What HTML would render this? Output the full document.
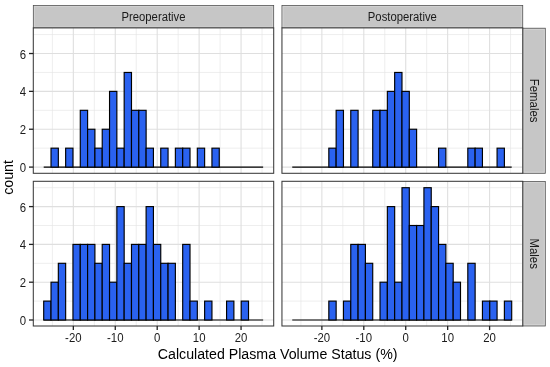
<!DOCTYPE html>
<html><head><meta charset="utf-8"><title>Calculated Plasma Volume Status</title>
<style>html,body{margin:0;padding:0;background:#fff}svg{display:block}</style></head>
<body>
<svg width="550" height="367" viewBox="0 0 550 367" font-family="Liberation Sans, Arial, sans-serif">
<rect width="550" height="367" fill="#fff"/>
<rect x="33.3" y="5.6" width="240.40" height="22.30" fill="#C6C6C6" stroke="#4a4a4a" stroke-width="0.75"/>
<rect x="34.4" y="6.7" width="238.20" height="20.30" fill="none" stroke="#dadada" stroke-width="0.6"/>
<text transform="translate(153.50,20.90) scale(1,1.05)" font-size="11.3" fill="#1a1a1a" text-anchor="middle">Preoperative</text>
<rect x="281.95" y="5.6" width="240.80" height="22.30" fill="#C6C6C6" stroke="#4a4a4a" stroke-width="0.75"/>
<rect x="283.05" y="6.7" width="238.60" height="20.30" fill="none" stroke="#dadada" stroke-width="0.6"/>
<text transform="translate(402.35,20.90) scale(1,1.05)" font-size="11.3" fill="#1a1a1a" text-anchor="middle">Postoperative</text>
<rect x="522.75" y="28.2" width="22.55" height="145.10" fill="#C6C6C6" stroke="#4a4a4a" stroke-width="0.75"/>
<rect x="523.95" y="29.299999999999997" width="20.25" height="142.80" fill="none" stroke="#dadada" stroke-width="0.6"/>
<text transform="translate(529.62,100.60) rotate(90) scale(1,1.05)" font-size="11.4" fill="#1a1a1a" text-anchor="middle">Females</text>
<rect x="522.75" y="181.60000000000002" width="22.55" height="144.40" fill="#C6C6C6" stroke="#4a4a4a" stroke-width="0.75"/>
<rect x="523.95" y="182.70000000000002" width="20.25" height="142.10" fill="none" stroke="#dadada" stroke-width="0.6"/>
<text transform="translate(529.62,253.65) rotate(90) scale(1,1.05)" font-size="11.4" fill="#1a1a1a" text-anchor="middle">Males</text>
<rect x="33.3" y="27.9" width="240.40" height="145.40" fill="#fff"/>
<line x1="33.3" x2="273.7" y1="148.17" y2="148.17" stroke="#E4E4E4" stroke-width="0.65"/>
<line x1="33.3" x2="273.7" y1="110.31" y2="110.31" stroke="#E4E4E4" stroke-width="0.65"/>
<line x1="33.3" x2="273.7" y1="72.45" y2="72.45" stroke="#E4E4E4" stroke-width="0.65"/>
<line x1="33.3" x2="273.7" y1="34.59" y2="34.59" stroke="#E4E4E4" stroke-width="0.65"/>
<line y1="27.9" y2="173.3" x1="52.38" x2="52.38" stroke="#E4E4E4" stroke-width="0.65"/>
<line y1="27.9" y2="173.3" x1="94.30" x2="94.30" stroke="#E4E4E4" stroke-width="0.65"/>
<line y1="27.9" y2="173.3" x1="136.23" x2="136.23" stroke="#E4E4E4" stroke-width="0.65"/>
<line y1="27.9" y2="173.3" x1="178.16" x2="178.16" stroke="#E4E4E4" stroke-width="0.65"/>
<line y1="27.9" y2="173.3" x1="220.09" x2="220.09" stroke="#E4E4E4" stroke-width="0.65"/>
<line y1="27.9" y2="173.3" x1="262.02" x2="262.02" stroke="#E4E4E4" stroke-width="0.65"/>
<line x1="33.3" x2="273.7" y1="167.10" y2="167.10" stroke="#DFDFDF" stroke-width="1.1"/>
<line x1="33.3" x2="273.7" y1="129.24" y2="129.24" stroke="#DFDFDF" stroke-width="1.1"/>
<line x1="33.3" x2="273.7" y1="91.38" y2="91.38" stroke="#DFDFDF" stroke-width="1.1"/>
<line x1="33.3" x2="273.7" y1="53.52" y2="53.52" stroke="#DFDFDF" stroke-width="1.1"/>
<line y1="27.9" y2="173.3" x1="73.34" x2="73.34" stroke="#DFDFDF" stroke-width="1.1"/>
<line y1="27.9" y2="173.3" x1="115.27" x2="115.27" stroke="#DFDFDF" stroke-width="1.1"/>
<line y1="27.9" y2="173.3" x1="157.20" x2="157.20" stroke="#DFDFDF" stroke-width="1.1"/>
<line y1="27.9" y2="173.3" x1="199.13" x2="199.13" stroke="#DFDFDF" stroke-width="1.1"/>
<line y1="27.9" y2="173.3" x1="241.06" x2="241.06" stroke="#DFDFDF" stroke-width="1.1"/>
<line x1="43.70" x2="263.15" y1="167.10" y2="167.10" stroke="#000" stroke-width="1.15"/>
<rect x="51.02" y="148.17" width="7.32" height="18.93" fill="#2A62F0" stroke="#000" stroke-width="1.15"/>
<rect x="65.65" y="148.17" width="7.32" height="18.93" fill="#2A62F0" stroke="#000" stroke-width="1.15"/>
<rect x="80.28" y="110.31" width="7.32" height="56.79" fill="#2A62F0" stroke="#000" stroke-width="1.15"/>
<rect x="87.59" y="129.24" width="7.32" height="37.86" fill="#2A62F0" stroke="#000" stroke-width="1.15"/>
<rect x="94.91" y="148.17" width="7.32" height="18.93" fill="#2A62F0" stroke="#000" stroke-width="1.15"/>
<rect x="102.22" y="129.24" width="7.32" height="37.86" fill="#2A62F0" stroke="#000" stroke-width="1.15"/>
<rect x="109.54" y="91.38" width="7.32" height="75.72" fill="#2A62F0" stroke="#000" stroke-width="1.15"/>
<rect x="116.85" y="148.17" width="7.32" height="18.93" fill="#2A62F0" stroke="#000" stroke-width="1.15"/>
<rect x="124.17" y="72.45" width="7.32" height="94.65" fill="#2A62F0" stroke="#000" stroke-width="1.15"/>
<rect x="131.48" y="110.31" width="7.32" height="56.79" fill="#2A62F0" stroke="#000" stroke-width="1.15"/>
<rect x="138.80" y="110.31" width="7.32" height="56.79" fill="#2A62F0" stroke="#000" stroke-width="1.15"/>
<rect x="146.11" y="148.17" width="7.32" height="18.93" fill="#2A62F0" stroke="#000" stroke-width="1.15"/>
<rect x="160.74" y="148.17" width="7.32" height="18.93" fill="#2A62F0" stroke="#000" stroke-width="1.15"/>
<rect x="175.37" y="148.17" width="7.32" height="18.93" fill="#2A62F0" stroke="#000" stroke-width="1.15"/>
<rect x="182.69" y="148.17" width="7.32" height="18.93" fill="#2A62F0" stroke="#000" stroke-width="1.15"/>
<rect x="197.31" y="148.17" width="7.32" height="18.93" fill="#2A62F0" stroke="#000" stroke-width="1.15"/>
<rect x="211.94" y="148.17" width="7.32" height="18.93" fill="#2A62F0" stroke="#000" stroke-width="1.15"/>
<rect x="33.3" y="27.9" width="240.40" height="145.40" fill="none" stroke="#3a3a3a" stroke-width="1.05"/>
<line x1="29.00" x2="33.3" y1="167.10" y2="167.10" stroke="#222" stroke-width="1.3"/>
<text transform="translate(26.20,172.10) scale(1,1.05)" font-size="11.4" fill="#1c1c1c" text-anchor="end">0</text>
<line x1="29.00" x2="33.3" y1="129.24" y2="129.24" stroke="#222" stroke-width="1.3"/>
<text transform="translate(26.20,134.24) scale(1,1.05)" font-size="11.4" fill="#1c1c1c" text-anchor="end">2</text>
<line x1="29.00" x2="33.3" y1="91.38" y2="91.38" stroke="#222" stroke-width="1.3"/>
<text transform="translate(26.20,96.38) scale(1,1.05)" font-size="11.4" fill="#1c1c1c" text-anchor="end">4</text>
<line x1="29.00" x2="33.3" y1="53.52" y2="53.52" stroke="#222" stroke-width="1.3"/>
<text transform="translate(26.20,58.52) scale(1,1.05)" font-size="11.4" fill="#1c1c1c" text-anchor="end">6</text>
<rect x="281.95" y="27.9" width="240.80" height="145.40" fill="#fff"/>
<line x1="281.95" x2="522.75" y1="148.17" y2="148.17" stroke="#E4E4E4" stroke-width="0.65"/>
<line x1="281.95" x2="522.75" y1="110.31" y2="110.31" stroke="#E4E4E4" stroke-width="0.65"/>
<line x1="281.95" x2="522.75" y1="72.45" y2="72.45" stroke="#E4E4E4" stroke-width="0.65"/>
<line x1="281.95" x2="522.75" y1="34.59" y2="34.59" stroke="#E4E4E4" stroke-width="0.65"/>
<line y1="27.9" y2="173.3" x1="300.91" x2="300.91" stroke="#E4E4E4" stroke-width="0.65"/>
<line y1="27.9" y2="173.3" x1="342.84" x2="342.84" stroke="#E4E4E4" stroke-width="0.65"/>
<line y1="27.9" y2="173.3" x1="384.77" x2="384.77" stroke="#E4E4E4" stroke-width="0.65"/>
<line y1="27.9" y2="173.3" x1="426.69" x2="426.69" stroke="#E4E4E4" stroke-width="0.65"/>
<line y1="27.9" y2="173.3" x1="468.62" x2="468.62" stroke="#E4E4E4" stroke-width="0.65"/>
<line y1="27.9" y2="173.3" x1="510.56" x2="510.56" stroke="#E4E4E4" stroke-width="0.65"/>
<line x1="281.95" x2="522.75" y1="167.10" y2="167.10" stroke="#DFDFDF" stroke-width="1.1"/>
<line x1="281.95" x2="522.75" y1="129.24" y2="129.24" stroke="#DFDFDF" stroke-width="1.1"/>
<line x1="281.95" x2="522.75" y1="91.38" y2="91.38" stroke="#DFDFDF" stroke-width="1.1"/>
<line x1="281.95" x2="522.75" y1="53.52" y2="53.52" stroke="#DFDFDF" stroke-width="1.1"/>
<line y1="27.9" y2="173.3" x1="321.87" x2="321.87" stroke="#DFDFDF" stroke-width="1.1"/>
<line y1="27.9" y2="173.3" x1="363.80" x2="363.80" stroke="#DFDFDF" stroke-width="1.1"/>
<line y1="27.9" y2="173.3" x1="405.73" x2="405.73" stroke="#DFDFDF" stroke-width="1.1"/>
<line y1="27.9" y2="173.3" x1="447.66" x2="447.66" stroke="#DFDFDF" stroke-width="1.1"/>
<line y1="27.9" y2="173.3" x1="489.59" x2="489.59" stroke="#DFDFDF" stroke-width="1.1"/>
<line x1="292.25" x2="511.70" y1="167.10" y2="167.10" stroke="#000" stroke-width="1.15"/>
<rect x="328.82" y="148.17" width="7.32" height="18.93" fill="#2A62F0" stroke="#000" stroke-width="1.15"/>
<rect x="336.14" y="110.31" width="7.32" height="56.79" fill="#2A62F0" stroke="#000" stroke-width="1.15"/>
<rect x="350.77" y="110.31" width="7.32" height="56.79" fill="#2A62F0" stroke="#000" stroke-width="1.15"/>
<rect x="372.72" y="110.31" width="7.32" height="56.79" fill="#2A62F0" stroke="#000" stroke-width="1.15"/>
<rect x="380.03" y="110.31" width="7.32" height="56.79" fill="#2A62F0" stroke="#000" stroke-width="1.15"/>
<rect x="387.35" y="91.38" width="7.32" height="75.72" fill="#2A62F0" stroke="#000" stroke-width="1.15"/>
<rect x="394.66" y="72.45" width="7.32" height="94.65" fill="#2A62F0" stroke="#000" stroke-width="1.15"/>
<rect x="401.98" y="91.38" width="7.32" height="75.72" fill="#2A62F0" stroke="#000" stroke-width="1.15"/>
<rect x="409.29" y="129.24" width="7.32" height="37.86" fill="#2A62F0" stroke="#000" stroke-width="1.15"/>
<rect x="438.55" y="148.17" width="7.32" height="18.93" fill="#2A62F0" stroke="#000" stroke-width="1.15"/>
<rect x="467.81" y="148.17" width="7.32" height="18.93" fill="#2A62F0" stroke="#000" stroke-width="1.15"/>
<rect x="475.12" y="148.17" width="7.32" height="18.93" fill="#2A62F0" stroke="#000" stroke-width="1.15"/>
<rect x="497.07" y="148.17" width="7.32" height="18.93" fill="#2A62F0" stroke="#000" stroke-width="1.15"/>
<rect x="281.95" y="27.9" width="240.80" height="145.40" fill="none" stroke="#3a3a3a" stroke-width="1.05"/>
<rect x="33.3" y="181.3" width="240.40" height="144.70" fill="#fff"/>
<line x1="33.3" x2="273.7" y1="301.10" y2="301.10" stroke="#E4E4E4" stroke-width="0.65"/>
<line x1="33.3" x2="273.7" y1="263.30" y2="263.30" stroke="#E4E4E4" stroke-width="0.65"/>
<line x1="33.3" x2="273.7" y1="225.50" y2="225.50" stroke="#E4E4E4" stroke-width="0.65"/>
<line x1="33.3" x2="273.7" y1="187.70" y2="187.70" stroke="#E4E4E4" stroke-width="0.65"/>
<line y1="181.3" y2="326.0" x1="52.38" x2="52.38" stroke="#E4E4E4" stroke-width="0.65"/>
<line y1="181.3" y2="326.0" x1="94.30" x2="94.30" stroke="#E4E4E4" stroke-width="0.65"/>
<line y1="181.3" y2="326.0" x1="136.23" x2="136.23" stroke="#E4E4E4" stroke-width="0.65"/>
<line y1="181.3" y2="326.0" x1="178.16" x2="178.16" stroke="#E4E4E4" stroke-width="0.65"/>
<line y1="181.3" y2="326.0" x1="220.09" x2="220.09" stroke="#E4E4E4" stroke-width="0.65"/>
<line y1="181.3" y2="326.0" x1="262.02" x2="262.02" stroke="#E4E4E4" stroke-width="0.65"/>
<line x1="33.3" x2="273.7" y1="320.00" y2="320.00" stroke="#DFDFDF" stroke-width="1.1"/>
<line x1="33.3" x2="273.7" y1="282.20" y2="282.20" stroke="#DFDFDF" stroke-width="1.1"/>
<line x1="33.3" x2="273.7" y1="244.40" y2="244.40" stroke="#DFDFDF" stroke-width="1.1"/>
<line x1="33.3" x2="273.7" y1="206.60" y2="206.60" stroke="#DFDFDF" stroke-width="1.1"/>
<line y1="181.3" y2="326.0" x1="73.34" x2="73.34" stroke="#DFDFDF" stroke-width="1.1"/>
<line y1="181.3" y2="326.0" x1="115.27" x2="115.27" stroke="#DFDFDF" stroke-width="1.1"/>
<line y1="181.3" y2="326.0" x1="157.20" x2="157.20" stroke="#DFDFDF" stroke-width="1.1"/>
<line y1="181.3" y2="326.0" x1="199.13" x2="199.13" stroke="#DFDFDF" stroke-width="1.1"/>
<line y1="181.3" y2="326.0" x1="241.06" x2="241.06" stroke="#DFDFDF" stroke-width="1.1"/>
<line x1="43.70" x2="263.15" y1="320.00" y2="320.00" stroke="#000" stroke-width="1.15"/>
<rect x="43.70" y="301.10" width="7.32" height="18.90" fill="#2A62F0" stroke="#000" stroke-width="1.15"/>
<rect x="51.02" y="282.20" width="7.32" height="37.80" fill="#2A62F0" stroke="#000" stroke-width="1.15"/>
<rect x="58.33" y="263.30" width="7.32" height="56.70" fill="#2A62F0" stroke="#000" stroke-width="1.15"/>
<rect x="72.96" y="244.40" width="7.32" height="75.60" fill="#2A62F0" stroke="#000" stroke-width="1.15"/>
<rect x="80.28" y="244.40" width="7.32" height="75.60" fill="#2A62F0" stroke="#000" stroke-width="1.15"/>
<rect x="87.59" y="244.40" width="7.32" height="75.60" fill="#2A62F0" stroke="#000" stroke-width="1.15"/>
<rect x="94.91" y="263.30" width="7.32" height="56.70" fill="#2A62F0" stroke="#000" stroke-width="1.15"/>
<rect x="102.22" y="244.40" width="7.32" height="75.60" fill="#2A62F0" stroke="#000" stroke-width="1.15"/>
<rect x="109.54" y="282.20" width="7.32" height="37.80" fill="#2A62F0" stroke="#000" stroke-width="1.15"/>
<rect x="116.85" y="206.60" width="7.32" height="113.40" fill="#2A62F0" stroke="#000" stroke-width="1.15"/>
<rect x="124.17" y="263.30" width="7.32" height="56.70" fill="#2A62F0" stroke="#000" stroke-width="1.15"/>
<rect x="131.48" y="244.40" width="7.32" height="75.60" fill="#2A62F0" stroke="#000" stroke-width="1.15"/>
<rect x="138.80" y="244.40" width="7.32" height="75.60" fill="#2A62F0" stroke="#000" stroke-width="1.15"/>
<rect x="146.11" y="206.60" width="7.32" height="113.40" fill="#2A62F0" stroke="#000" stroke-width="1.15"/>
<rect x="153.43" y="244.40" width="7.32" height="75.60" fill="#2A62F0" stroke="#000" stroke-width="1.15"/>
<rect x="160.74" y="263.30" width="7.32" height="56.70" fill="#2A62F0" stroke="#000" stroke-width="1.15"/>
<rect x="168.06" y="263.30" width="7.32" height="56.70" fill="#2A62F0" stroke="#000" stroke-width="1.15"/>
<rect x="182.69" y="244.40" width="7.32" height="75.60" fill="#2A62F0" stroke="#000" stroke-width="1.15"/>
<rect x="190.00" y="301.10" width="7.32" height="18.90" fill="#2A62F0" stroke="#000" stroke-width="1.15"/>
<rect x="204.63" y="301.10" width="7.32" height="18.90" fill="#2A62F0" stroke="#000" stroke-width="1.15"/>
<rect x="226.57" y="301.10" width="7.32" height="18.90" fill="#2A62F0" stroke="#000" stroke-width="1.15"/>
<rect x="241.21" y="301.10" width="7.32" height="18.90" fill="#2A62F0" stroke="#000" stroke-width="1.15"/>
<rect x="33.3" y="181.3" width="240.40" height="144.70" fill="none" stroke="#3a3a3a" stroke-width="1.05"/>
<line x1="29.00" x2="33.3" y1="320.00" y2="320.00" stroke="#222" stroke-width="1.3"/>
<text transform="translate(26.20,325.00) scale(1,1.05)" font-size="11.4" fill="#1c1c1c" text-anchor="end">0</text>
<line x1="29.00" x2="33.3" y1="282.20" y2="282.20" stroke="#222" stroke-width="1.3"/>
<text transform="translate(26.20,287.20) scale(1,1.05)" font-size="11.4" fill="#1c1c1c" text-anchor="end">2</text>
<line x1="29.00" x2="33.3" y1="244.40" y2="244.40" stroke="#222" stroke-width="1.3"/>
<text transform="translate(26.20,249.40) scale(1,1.05)" font-size="11.4" fill="#1c1c1c" text-anchor="end">4</text>
<line x1="29.00" x2="33.3" y1="206.60" y2="206.60" stroke="#222" stroke-width="1.3"/>
<text transform="translate(26.20,211.60) scale(1,1.05)" font-size="11.4" fill="#1c1c1c" text-anchor="end">6</text>
<line y1="326.0" y2="330.1" x1="73.34" x2="73.34" stroke="#222" stroke-width="1.3"/>
<text transform="translate(73.34,342.40) scale(1,1.05)" font-size="11.4" fill="#1c1c1c" text-anchor="middle">-20</text>
<line y1="326.0" y2="330.1" x1="115.27" x2="115.27" stroke="#222" stroke-width="1.3"/>
<text transform="translate(115.27,342.40) scale(1,1.05)" font-size="11.4" fill="#1c1c1c" text-anchor="middle">-10</text>
<line y1="326.0" y2="330.1" x1="157.20" x2="157.20" stroke="#222" stroke-width="1.3"/>
<text transform="translate(157.20,342.40) scale(1,1.05)" font-size="11.4" fill="#1c1c1c" text-anchor="middle">0</text>
<line y1="326.0" y2="330.1" x1="199.13" x2="199.13" stroke="#222" stroke-width="1.3"/>
<text transform="translate(199.13,342.40) scale(1,1.05)" font-size="11.4" fill="#1c1c1c" text-anchor="middle">10</text>
<line y1="326.0" y2="330.1" x1="241.06" x2="241.06" stroke="#222" stroke-width="1.3"/>
<text transform="translate(241.06,342.40) scale(1,1.05)" font-size="11.4" fill="#1c1c1c" text-anchor="middle">20</text>
<rect x="281.95" y="181.3" width="240.80" height="144.70" fill="#fff"/>
<line x1="281.95" x2="522.75" y1="301.10" y2="301.10" stroke="#E4E4E4" stroke-width="0.65"/>
<line x1="281.95" x2="522.75" y1="263.30" y2="263.30" stroke="#E4E4E4" stroke-width="0.65"/>
<line x1="281.95" x2="522.75" y1="225.50" y2="225.50" stroke="#E4E4E4" stroke-width="0.65"/>
<line x1="281.95" x2="522.75" y1="187.70" y2="187.70" stroke="#E4E4E4" stroke-width="0.65"/>
<line y1="181.3" y2="326.0" x1="300.91" x2="300.91" stroke="#E4E4E4" stroke-width="0.65"/>
<line y1="181.3" y2="326.0" x1="342.84" x2="342.84" stroke="#E4E4E4" stroke-width="0.65"/>
<line y1="181.3" y2="326.0" x1="384.77" x2="384.77" stroke="#E4E4E4" stroke-width="0.65"/>
<line y1="181.3" y2="326.0" x1="426.69" x2="426.69" stroke="#E4E4E4" stroke-width="0.65"/>
<line y1="181.3" y2="326.0" x1="468.62" x2="468.62" stroke="#E4E4E4" stroke-width="0.65"/>
<line y1="181.3" y2="326.0" x1="510.56" x2="510.56" stroke="#E4E4E4" stroke-width="0.65"/>
<line x1="281.95" x2="522.75" y1="320.00" y2="320.00" stroke="#DFDFDF" stroke-width="1.1"/>
<line x1="281.95" x2="522.75" y1="282.20" y2="282.20" stroke="#DFDFDF" stroke-width="1.1"/>
<line x1="281.95" x2="522.75" y1="244.40" y2="244.40" stroke="#DFDFDF" stroke-width="1.1"/>
<line x1="281.95" x2="522.75" y1="206.60" y2="206.60" stroke="#DFDFDF" stroke-width="1.1"/>
<line y1="181.3" y2="326.0" x1="321.87" x2="321.87" stroke="#DFDFDF" stroke-width="1.1"/>
<line y1="181.3" y2="326.0" x1="363.80" x2="363.80" stroke="#DFDFDF" stroke-width="1.1"/>
<line y1="181.3" y2="326.0" x1="405.73" x2="405.73" stroke="#DFDFDF" stroke-width="1.1"/>
<line y1="181.3" y2="326.0" x1="447.66" x2="447.66" stroke="#DFDFDF" stroke-width="1.1"/>
<line y1="181.3" y2="326.0" x1="489.59" x2="489.59" stroke="#DFDFDF" stroke-width="1.1"/>
<line x1="292.25" x2="511.70" y1="320.00" y2="320.00" stroke="#000" stroke-width="1.15"/>
<rect x="328.82" y="301.10" width="7.32" height="18.90" fill="#2A62F0" stroke="#000" stroke-width="1.15"/>
<rect x="343.45" y="301.10" width="7.32" height="18.90" fill="#2A62F0" stroke="#000" stroke-width="1.15"/>
<rect x="350.77" y="244.40" width="7.32" height="75.60" fill="#2A62F0" stroke="#000" stroke-width="1.15"/>
<rect x="358.09" y="244.40" width="7.32" height="75.60" fill="#2A62F0" stroke="#000" stroke-width="1.15"/>
<rect x="365.40" y="263.30" width="7.32" height="56.70" fill="#2A62F0" stroke="#000" stroke-width="1.15"/>
<rect x="380.03" y="282.20" width="7.32" height="37.80" fill="#2A62F0" stroke="#000" stroke-width="1.15"/>
<rect x="387.35" y="206.60" width="7.32" height="113.40" fill="#2A62F0" stroke="#000" stroke-width="1.15"/>
<rect x="394.66" y="282.20" width="7.32" height="37.80" fill="#2A62F0" stroke="#000" stroke-width="1.15"/>
<rect x="401.98" y="187.70" width="7.32" height="132.30" fill="#2A62F0" stroke="#000" stroke-width="1.15"/>
<rect x="409.29" y="225.50" width="7.32" height="94.50" fill="#2A62F0" stroke="#000" stroke-width="1.15"/>
<rect x="416.61" y="225.50" width="7.32" height="94.50" fill="#2A62F0" stroke="#000" stroke-width="1.15"/>
<rect x="423.92" y="187.70" width="7.32" height="132.30" fill="#2A62F0" stroke="#000" stroke-width="1.15"/>
<rect x="431.24" y="206.60" width="7.32" height="113.40" fill="#2A62F0" stroke="#000" stroke-width="1.15"/>
<rect x="438.55" y="244.40" width="7.32" height="75.60" fill="#2A62F0" stroke="#000" stroke-width="1.15"/>
<rect x="445.87" y="263.30" width="7.32" height="56.70" fill="#2A62F0" stroke="#000" stroke-width="1.15"/>
<rect x="453.18" y="282.20" width="7.32" height="37.80" fill="#2A62F0" stroke="#000" stroke-width="1.15"/>
<rect x="467.81" y="263.30" width="7.32" height="56.70" fill="#2A62F0" stroke="#000" stroke-width="1.15"/>
<rect x="482.44" y="301.10" width="7.32" height="18.90" fill="#2A62F0" stroke="#000" stroke-width="1.15"/>
<rect x="489.75" y="301.10" width="7.32" height="18.90" fill="#2A62F0" stroke="#000" stroke-width="1.15"/>
<rect x="504.38" y="301.10" width="7.32" height="18.90" fill="#2A62F0" stroke="#000" stroke-width="1.15"/>
<rect x="281.95" y="181.3" width="240.80" height="144.70" fill="none" stroke="#3a3a3a" stroke-width="1.05"/>
<line y1="326.0" y2="330.1" x1="321.87" x2="321.87" stroke="#222" stroke-width="1.3"/>
<text transform="translate(321.87,342.40) scale(1,1.05)" font-size="11.4" fill="#1c1c1c" text-anchor="middle">-20</text>
<line y1="326.0" y2="330.1" x1="363.80" x2="363.80" stroke="#222" stroke-width="1.3"/>
<text transform="translate(363.80,342.40) scale(1,1.05)" font-size="11.4" fill="#1c1c1c" text-anchor="middle">-10</text>
<line y1="326.0" y2="330.1" x1="405.73" x2="405.73" stroke="#222" stroke-width="1.3"/>
<text transform="translate(405.73,342.40) scale(1,1.05)" font-size="11.4" fill="#1c1c1c" text-anchor="middle">0</text>
<line y1="326.0" y2="330.1" x1="447.66" x2="447.66" stroke="#222" stroke-width="1.3"/>
<text transform="translate(447.66,342.40) scale(1,1.05)" font-size="11.4" fill="#1c1c1c" text-anchor="middle">10</text>
<line y1="326.0" y2="330.1" x1="489.59" x2="489.59" stroke="#222" stroke-width="1.3"/>
<text transform="translate(489.59,342.40) scale(1,1.05)" font-size="11.4" fill="#1c1c1c" text-anchor="middle">20</text>
<text transform="translate(277.60,358.90) scale(1,1.05)" font-size="14.2" fill="#000" text-anchor="middle">Calculated Plasma Volume Status (%)</text>
<text transform="translate(13.30,177.50) rotate(-90) scale(1,1.05)" font-size="14.2" fill="#000" text-anchor="middle">count</text>
</svg>
</body></html>
